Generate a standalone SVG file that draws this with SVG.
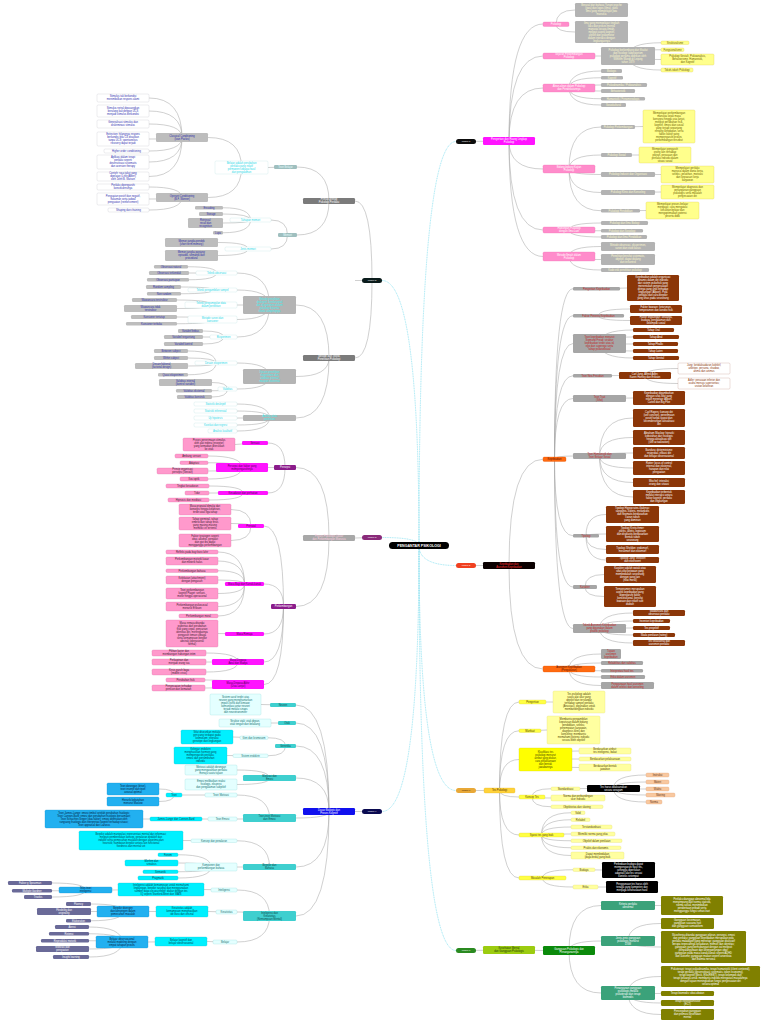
<svg xmlns="http://www.w3.org/2000/svg" width="768" height="1024" viewBox="0 0 768 1024">
<style>
text{font-family:"Liberation Sans",Arial,sans-serif;font-size:2.6px;text-anchor:middle}
rect{rx:1.2px;ry:1.2px}
.c{fill:none;stroke:#a8a8a8;stroke-width:.55}
.d{fill:none;stroke:#86dff0;stroke-width:.8;stroke-dasharray:1 .7}
.root rect{fill:#000;rx:3.5px;ry:3.5px}.root text{fill:#fff;font-size:3.6px;font-weight:bold}
.mo rect{rx:2.5px;ry:2.5px}.mo text{fill:#fff;font-size:2.4px}
.mA rect{fill:#ff14ff}.mA text{fill:#fff}
.p1 rect{fill:#ff8ccb;stroke:#ee6fb4;stroke-width:.3}.p1 text{fill:#fff}
.g1 rect{fill:#b3b3b3}.g1 text{fill:#fbf8d0}
.y1 rect{fill:#ffff8c;stroke:#d9c846;stroke-width:.3}.y1 text{fill:#6b5a00}
.bk5 rect{fill:#0a0000}.bk5 text{fill:#ff3030}
.or rect{fill:#ff6a10;stroke:#e05000;stroke-width:.3}.or text{fill:#5a1000}
.gr rect{fill:#a6a6a6}.gr text{fill:#c02020}
.br rect{fill:#8b3608}.br text{fill:#fff}
.wbr rect{fill:#fff;stroke:#c09080;stroke-width:.3}.wbr text{fill:#8b3608}
.gd rect{fill:#ffd23a;stroke:#e0b020;stroke-width:.3}.gd text{fill:#503000}
.yl rect{fill:#ffff44;stroke:#d8d030;stroke-width:.3}.yl text{fill:#504000}
.yb rect{fill:#ffff00;stroke:#d0d000;stroke-width:.3}.yb text{fill:#404000}
.yp rect{fill:#ffffa0;stroke:#e0d870;stroke-width:.3}.yp text{fill:#504000}
.bkw rect{fill:#000}.bkw text{fill:#fff}
.pc rect{fill:#f8c8a0;stroke:#e0a070;stroke-width:.3}.pc text{fill:#603010}
.lg rect{fill:#9ccc10}.lg text{fill:#1d3a00}
.dgr rect{fill:#0b8a0b}.dgr text{fill:#fff}
.tgr rect{fill:#3ba27a}.tgr text{fill:#fff}
.ol rect{fill:#808000}.ol text{fill:#fff}
.dg rect{fill:#7b7b7b}.dg text{fill:#fff}
.tg rect{fill:#9fbfbf}.tg text{fill:#e8ffff}
.wc rect{fill:#fff;stroke:#b8e0e0;stroke-width:.3}.wc text{fill:#28d8e8}
.gb rect{fill:#bdbdbd}.gb text{fill:#2a2aa8}
.wb rect{fill:#fff;stroke:#c0c0c8;stroke-width:.3}.wb text{fill:#3030b0}
.gc rect{fill:#b4b4b4}.gc text{fill:#40f0f0}
.gm rect{fill:#a8a8a8}.gm text{fill:#ffd0e0}
.pu rect{fill:#8b1c8b}.pu text{fill:#fff}
.mg rect{fill:#ff14ff}.mg text{fill:#500050}
.pk rect{fill:#ff99cc;stroke:#d870a8;stroke-width:.3}.pk text{fill:#402030}
.bl rect{fill:#1010ee}.bl text{fill:#fff}
.tl rect{fill:#3fcfcf}.tl text{fill:#064848}
.lc rect{fill:#e4ffff;stroke:#90d8d8;stroke-width:.3}.lc text{fill:#107070}
.cy rect{fill:#00f0ff;stroke:#20c0d0;stroke-width:.3}.cy text{fill:#004050}
.sb rect{fill:#22b0f0;stroke:#1090d0;stroke-width:.3}.sb text{fill:#002040}
.sl rect{fill:#6a6a98}.sl text{fill:#fff}
</style>

<g id="connectors">
<path class="d" d="M419 545.5Q419 141.5 456 141.5M419 545.5Q419 565.5 456 565.5M419 545.5Q419 790.5 456 790.5M419 545.5Q419 950.5 456 950.5M419 545.5Q419 280.5 382 280.5M419 545.5Q419 537.5 382 537.5M419 545.5Q419 811.5 382 811.5"/>
<path class="c" d="M466 141.5L509 141M466 565.5L509 565.5M466 790.5L499.5 790.5M466 950.5L509 950M372 280.5L355 280.5M372 537.5L355 538M372 811.5L355 811.5"/>
<path class="c" d="M509 141Q509 24 543 24M509 141Q509 56 543 56M509 141Q509 88 543 88M509 141Q509 169 543 169M509 141Q509 230 543 230M509 141Q509 256.5 543 256.5"/>
<path class="c" d="M556 24.25Q556 10 575 10M556 24.25Q556 32 575 32M569 56L601 56M628 56Q628 42.75 661 42.75M628 56Q628 49.75 661 49.75M628 56Q628 59.5 661 59.5M628 56Q628 70 661 70"/>
<path class="c" d="M569 88Q569 71 601 71M569 88Q569 77.75 601 77.75M569 88Q569 85 601 85M569 88Q569 91 601 91M569 88Q569 98.75 601 98.75M569 88Q569 105 601 105"/>
<path class="c" d="M569 169Q569 127 601 127M569 169Q569 155 601 155M569 169Q569 174.5 601 174.5M569 169Q569 192.5 601 192.5M569 169Q569 210.75 601 210.75M618 127L643 126.5M616.5 155L639 155M628 174.5L661 174.5M628 192.5L661 192M620.5 210.75L646 210.5"/>
<path class="c" d="M569 230Q569 223 601 223M569 230Q569 230.75 601 230.75M569 230Q569 237 601 237M569 256.5Q569 246.5 601 246.5M569 256.5Q569 259.5 601 259.5M569 256.5Q569 270 601 270"/>
<path class="c" d="M509 565.5Q509 459.25 543 459.25M509 565.5Q509 669 543 669"/>
<path class="c" d="M554.5 459.25Q554.5 288.75 573 288.75M554.5 459.25Q554.5 315.75 573 315.75M554.5 459.25Q554.5 343.5 573 343.5M554.5 459.25Q554.5 375.75 573 375.75M554.5 459.25Q554.5 398.5 573 398.5M554.5 459.25Q554.5 456 573 456M554.5 459.25Q554.5 535.75 573 535.75M554.5 459.25Q554.5 587 573 587M554.5 459.25Q554.5 628.5 573 628.5"/>
<path class="c" d="M596.5 288.75L627 288M598.5 315.75Q598.5 309 630 309M598.5 315.75Q598.5 320.5 630 320.5M599.5 343.5Q599.5 330 633 330M599.5 343.5Q599.5 337 633 337M599.5 343.5Q599.5 344 633 344M599.5 343.5Q599.5 351 633 351M599.5 343.5Q599.5 358 633 358M592.5 375.75L619 375.5M645 375.5Q645 368.5 678 368.5M645 375.5Q645 383.5 678 383.5M599.5 398.5L633 398"/>
<path class="c" d="M599.5 456Q599.5 418 633 418M599.5 456Q599.5 437.5 633 437.5M599.5 456Q599.5 453 633 453M599.5 456Q599.5 468 633 468M599.5 456Q599.5 482.5 633 482.5M599.5 456Q599.5 497 633 497"/>
<path class="c" d="M586 535.75Q586 514.5 606 514.5M586 535.75Q586 534 606 534M586 535.75Q586 549.5 606 549.5M586 535.75Q586 560 606 560M585 587Q585 574.5 604 574.5M585 587Q585 596.5 604 596.5"/>
<path class="c" d="M599.5 628.5Q599.5 613 633 613M599.5 628.5Q599.5 621 633 621M599.5 628.5Q599.5 628 633 628M599.5 628.5Q599.5 635 633 635M599.5 628.5Q599.5 643 633 643"/>
<path class="c" d="M569 669Q569 654 601 654M569 669Q569 663 601 663M569 669Q569 670.75 601 670.75M569 669Q569 677 601 677M569 669Q569 685.5 601 685.5"/>
<path class="c" d="M499.5 790.5Q499.5 702 519 702M499.5 790.5Q499.5 730.75 519 730.75M499.5 790.5Q499.5 759.5 519 759.5M499.5 790.5Q499.5 797 519 797M499.5 790.5Q499.5 835 519 835M499.5 790.5Q499.5 878 519 878"/>
<path class="c" d="M532.5 702L553 702M530 730.75L547 730M545.5 759.5Q545.5 751 579 751M545.5 759.5Q545.5 759 579 759M545.5 759.5Q545.5 767.5 579 767.5M532 797Q532 788.75 551 788.75M532 797Q532 798 551 798M532 797Q532 806.75 551 806.75M565.5 788.75L587 788.5"/>
<path class="c" d="M613.5 788.5Q613.5 775 646 775M613.5 788.5Q613.5 782 646 782M613.5 788.5Q613.5 789 646 789M613.5 788.5Q613.5 795 646 795M613.5 788.5Q613.5 802 646 802"/>
<path class="c" d="M541.5 835Q541.5 812.75 571 812.75M541.5 835Q541.5 819.75 571 819.75M541.5 835Q541.5 827 571 827M541.5 835Q541.5 834 571 834M541.5 835Q541.5 840.75 571 840.75M541.5 835Q541.5 847.75 571 847.75M541.5 835Q541.5 855.5 571 855.5M542.5 878Q542.5 869.75 573 869.75M542.5 878Q542.5 887 573 887M584 869.75L602 870M585.5 887L606 887"/>
<path class="c" d="M509 950L543 950.5M569 950.5Q569 905.5 601 905.5M569 950.5Q569 941 601 941M569 950.5Q569 993 601 993M628 905.5L661 905.5M628 941Q628 923.5 661 923.5M628 941Q628 947 661 947M628 993Q628 976.5 661 976.5M628 993Q628 993.5 661 993.5M628 993Q628 1003 661 1003M628 993Q628 1014.5 661 1014.5"/>
<path class="c" d="M372 280.5Q372 201 355 201M372 280.5Q372 358 355 358M329 201Q329 167 297 167M329 201Q329 235 297 235M285.5 167L268 167.5M241.5 167.5Q241.5 137.5 208 137.5M241.5 167.5Q241.5 197.5 208 197.5"/>
<path class="c" d="M182 137.5Q182 98 149 98M182 137.5Q182 111 149 111M182 137.5Q182 124 149 124M182 137.5Q182 139 149 139M182 137.5Q182 151 149 151M182 137.5Q182 162 149 162M182 137.5Q182 176.5 149 176.5M182 197.5Q182 187 149 187M182 197.5Q182 199 149 199M182 197.5Q182 210 149 210"/>
<path class="c" d="M287.5 235Q287.5 220 271 220M287.5 235Q287.5 249 271 249M250.5 220Q250.5 207.75 223 207.75M250.5 220Q250.5 214 223 214M250.5 220Q250.5 223 223 223M250.5 220Q250.5 232.75 223 232.75M248 249Q248 242.5 218 242.5M248 249Q248 255.5 218 255.5"/>
<path class="c" d="M329 358Q329 305 296 305M329 358Q329 376.5 296 376.5M329 358Q329 418 296 418M269.5 305Q269.5 273 237 273M269.5 305Q269.5 290 237 290M269.5 305L237 305M269.5 305Q269.5 319.5 237 319.5M269.5 305Q269.5 337 237 337"/>
<path class="c" d="M216.5 273Q216.5 266.75 188 266.75M216.5 273L189 273M216.5 273Q216.5 279.75 189 279.75M212.5 290Q212.5 287 181 287M212.5 290Q212.5 293.75 181 293.75M211 305Q211 300 177 300M211 305Q211 308.5 177 308.5M212.5 319.5Q212.5 317 177 317M212.5 319.5Q212.5 323.75 177 323.75M223.5 337Q223.5 331 203 331M223.5 337L203 337M223.5 337Q223.5 344 203 344"/>
<path class="c" d="M269.5 376.5Q269.5 363 237 363M269.5 376.5Q269.5 389 237 389M216 363Q216 351 188 351M216 363Q216 358 188 358M216 363Q216 366 188 366M216 363Q216 374.75 188 374.75M227.5 389Q227.5 382.5 212 382.5M227.5 389Q227.5 390.75 212 390.75M227.5 389Q227.5 397 212 397"/>
<path class="c" d="M269.5 418Q269.5 404 237 404M269.5 418Q269.5 411 237 411M269.5 418L237 418M269.5 418Q269.5 425 237 425M269.5 418Q269.5 431 237 431"/>
<path class="c" d="M329 538Q329 467.5 296 467.5M329 538Q329 606.5 296 606.5M285 467.5Q285 443 268 443M285 467.5L268 467.5M285 467.5Q285 493 268 493M255 443L235 444.5"/>
<path class="c" d="M242 467.5Q242 456 208 456M242 467.5Q242 462.75 208 462.75M242 467.5Q242 471 208 471M242 467.5Q242 479 208 479M243 493Q243 486 209 486M243 493L209 493M243 493Q243 500 209 500"/>
<path class="c" d="M283.5 606.5Q283.5 526 264 526M283.5 606.5Q283.5 584 264 584M283.5 606.5Q283.5 634 264 634M283.5 606.5Q283.5 662 264 662M283.5 606.5Q283.5 684.5 264 684.5"/>
<path class="c" d="M251 526Q251 509.5 231 509.5M251 526Q251 523.5 231 523.5M251 526Q251 540.5 231 540.5M244.5 584Q244.5 552 218 552M244.5 584Q244.5 561 218 561M244.5 584Q244.5 570.75 218 570.75M244.5 584Q244.5 580 218 580M244.5 584Q244.5 593.5 218 593.5M244.5 584Q244.5 606.5 218 606.5M244.5 584Q244.5 616 218 616M244.5 634L218 633.5"/>
<path class="c" d="M238 662Q238 653 206 653M238 662L206 662M238 662Q238 672 206 672M238 684.5Q238 680 205 680M238 684.5Q238 688 205 688"/>
<path class="c" d="M329 811.5Q329 705 296 705M329 811.5Q329 723 296 723M329 811.5Q329 746 296 746M329 811.5Q329 778 296 778M329 811.5Q329 818 296 818M329 811.5Q329 867 296 867M329 811.5Q329 916 296 916"/>
<path class="c" d="M283 705L261 704.5M287 723L271 723M285.5 746Q285.5 737.75 268 737.75M285.5 746Q285.5 755.75 268 755.75M254 737.75L233 737M250.5 755.75L227 755.5M269.5 778Q269.5 770 237 770M269.5 778Q269.5 784.5 237 784.5"/>
<path class="c" d="M269.5 818Q269.5 795 237 795M269.5 818Q269.5 819 237 819M221 795L182 795M174 795Q174 789 159 789M174 795Q174 801.5 159 801.5M222.5 819L202 819M176 819L143 819"/>
<path class="c" d="M269.5 867Q269.5 840.75 237 840.75M269.5 867L237 867M214 840.75L183 840.5M211 867Q211 854.75 178 854.75M211 867Q211 863 178 863M211 867Q211 871.75 178 871.75M211 867Q211 878 178 878"/>
<path class="c" d="M269.5 916Q269.5 890 237 890M269.5 916Q269.5 912 237 912M269.5 916Q269.5 942 237 942M224 890L204 889.5M161 889.5L112 890M85.5 890Q85.5 883 52 883M85.5 890Q85.5 890.75 52 890.75M85.5 890Q85.5 897 52 897"/>
<path class="c" d="M226.5 912L208 911.5M182 911.5L149 911.5M123 911.5Q123 904 91 904M123 911.5L91 911.5M123 911.5Q123 920.75 91 920.75M225 942L207 941.5M181 941.5L148 942M122 942Q122 927 89 927M122 942Q122 933.75 89 933.75M122 942Q122 940.75 89 940.75M122 942Q122 949 89 949M122 942Q122 957 89 957"/>
</g>

<g id="root" class="root"><rect x="389" y="542" width="60" height="7"/><text x="419" y="546.8">PENGANTAR PSIKOLOGI</text></g>
<g id="modul1" class="mo"><rect x="456" y="139" width="20" height="5" fill="#0d0d0d"/><text x="466" y="142.3">Modul 1</text></g>
<g id="modul2" class="mo"><rect x="362" y="278" width="20" height="5" fill="#0b1c1c"/><text x="372" y="281.3">Modul 2</text></g>
<g id="modul3" class="mo"><rect x="362" y="535" width="20" height="5" fill="#8a2a7a"/><text x="372" y="538.3">Modul 3</text></g>
<g id="modul4" class="mo"><rect x="362" y="809" width="20" height="5" fill="#0a0a50"/><text x="372" y="812.3">Modul 4</text></g>
<g id="modul5" class="mo"><rect x="456" y="563" width="20" height="5" fill="#f04020"/><text x="466" y="566.3">Modul 5</text></g>
<g id="modul6" class="mo"><rect x="456" y="788" width="20" height="5" fill="#e8a838"/><text x="466" y="791.3" style="fill:#402000">Modul 6</text></g>
<g id="modul7" class="mo"><rect x="456" y="948" width="20" height="5" fill="#2a8a20"/><text x="466" y="951.3">Modul 7</text></g>

<!-- Modul 1 -->
<g id="a0" class="mA"><rect x="483" y="137" width="52" height="8"/><text x="509" y="140.4">Pengertian dan Ruang Lingkup<tspan x="509" dy="3">Psikologi</tspan></text></g>
<g id="p1" class="p1"><rect x="543" y="22" width="26" height="4.5"/><text x="556" y="25.15">Psikologi</text></g>
<g id="g11" class="g1"><rect x="575" y="3" width="53" height="14"/><text x="601.5" y="6.4">Berasal dari bahasa Yunani psyche<tspan x="601.5" dy="3">(jiwa) dan logos (ilmu), yaitu</tspan><tspan x="601.5" dy="3">ilmu yang mempelajari jiwa</tspan><tspan x="601.5" dy="3">manusia</tspan></text></g>
<g id="g12" class="g1"><rect x="575" y="21" width="53" height="22"/><text x="601.5" y="23.9">Ilmu yang mempelajari tingkah<tspan x="601.5" dy="3">laku dan proses mental</tspan><tspan x="601.5" dy="3">manusia secara ilmiah,</tspan><tspan x="601.5" dy="3">meliputi aspek kognitif,</tspan><tspan x="601.5" dy="3">afektif dan psikomotor</tspan><tspan x="601.5" dy="3">dalam interaksi dengan</tspan><tspan x="601.5" dy="3">lingkungannya</tspan></text></g>
<g id="p2" class="p1"><rect x="543" y="53" width="52" height="6"/><text x="569" y="55.4">Sejarah Perkembangan<tspan x="569" dy="3">Psikologi</tspan></text></g>
<g id="g21" class="g1"><rect x="601" y="47" width="54" height="18"/><text x="628" y="50.9">Psikologi berkembang dari filsafat<tspan x="628" dy="3">dan fisiologi; laboratorium</tspan><tspan x="628" dy="3">psikologi pertama didirikan oleh</tspan><tspan x="628" dy="3">Wilhelm Wundt di Leipzig</tspan><tspan x="628" dy="3">tahun 1879</tspan></text></g>
<g id="y1" class="y1"><rect x="661" y="41" width="28" height="3.5"/><text x="675" y="43.65">Strukturalisme</text></g>
<g id="y2" class="y1"><rect x="661" y="48" width="23" height="3.5"/><text x="672.5" y="50.65">Fungsionalisme</text></g>
<g id="y3" class="y1"><rect x="661" y="54" width="53" height="11"/><text x="687.5" y="57.4">Psikologi Gestalt, Psikoanalisis,<tspan x="687.5" dy="3">Behaviorisme, Humanistik,</tspan><tspan x="687.5" dy="3">dan Kognitif</tspan></text></g>
<g id="y4" class="y1"><rect x="661" y="68" width="32" height="4"/><text x="677" y="70.9">Tokoh-tokoh Psikologi</text></g>
<g id="p3" class="p1"><rect x="543" y="84" width="52" height="8"/><text x="569" y="87.4">Aliran-aliran dalam Psikologi<tspan x="569" dy="3">dan Pendekatannya</tspan></text></g>
<g id="p3a" class="g1"><rect x="601" y="69" width="21" height="4"/><text x="611.5" y="71.9">Biologis</text></g>
<g id="p3b" class="g1"><rect x="601" y="76" width="22" height="3.5"/><text x="612" y="78.65">Kognitif</text></g>
<g id="p3c" class="g1"><rect x="601" y="83" width="46" height="4"/><text x="624" y="85.9">Psikodinamika / Psikoanalisis</text></g>
<g id="p3d" class="g1"><rect x="601" y="89" width="34" height="4"/><text x="618" y="91.9">Behavioristik</text></g>
<g id="p3e" class="g1"><rect x="601" y="97" width="44" height="3.5"/><text x="623" y="99.65">Humanistik / Fenomenologis</text></g>
<g id="p3f" class="g1"><rect x="601" y="103" width="25" height="4"/><text x="613.5" y="105.9">Sosiokultural</text></g>
<g id="p4" class="p1"><rect x="543" y="165" width="52" height="8"/><text x="569" y="168.4">Bidang-bidang Kajian<tspan x="569" dy="3">Psikologi</tspan></text></g>
<g id="g41" class="g1"><rect x="601" y="125" width="34" height="4"/><text x="618" y="127.9">Psikologi Perkembangan</text></g>
<g id="y41" class="y1"><rect x="643" y="110" width="52" height="33"/><text x="669" y="113.9">Mempelajari perkembangan<tspan x="669" dy="3">manusia sejak masa</tspan><tspan x="669" dy="3">konsepsi hingga usia lanjut,</tspan><tspan x="669" dy="3">meliputi perubahan fisik,</tspan><tspan x="669" dy="3">kognitif, emosi dan sosial</tspan><tspan x="669" dy="3">yang terjadi sepanjang</tspan><tspan x="669" dy="3">rentang kehidupan, serta</tspan><tspan x="669" dy="3">faktor-faktor yang</tspan><tspan x="669" dy="3">mempengaruhi proses</tspan><tspan x="669" dy="3">perkembangan tersebut</tspan></text></g>
<g id="g42" class="g1"><rect x="601" y="153" width="31" height="4"/><text x="616.5" y="155.9">Psikologi Sosial</text></g>
<g id="y42" class="y1"><rect x="639" y="147" width="52" height="16"/><text x="665" y="149.9">Mempelajari pengaruh<tspan x="665" dy="3">orang lain terhadap</tspan><tspan x="665" dy="3">pikiran, perasaan dan</tspan><tspan x="665" dy="3">perilaku individu dalam</tspan><tspan x="665" dy="3">situasi sosial</tspan></text></g>
<g id="g43" class="g1"><rect x="601" y="172" width="54" height="5"/><text x="628" y="175.4">Psikologi Industri dan Organisasi</text></g>
<g id="y43" class="y1"><rect x="661" y="166" width="53" height="17"/><text x="687.5" y="169.4">Mempelajari perilaku<tspan x="687.5" dy="3">manusia dalam dunia kerja,</tspan><tspan x="687.5" dy="3">seleksi, pelatihan, motivasi</tspan><tspan x="687.5" dy="3">dan kepuasan kerja</tspan><tspan x="687.5" dy="3">karyawan</tspan></text></g>
<g id="g44" class="g1"><rect x="601" y="190" width="54" height="5"/><text x="628" y="193.4">Psikologi Klinis dan Konseling</text></g>
<g id="y44" class="y1"><rect x="661" y="185" width="53" height="14"/><text x="687.5" y="188.4">Mempelajari diagnosis dan<tspan x="687.5" dy="3">penanganan gangguan</tspan><tspan x="687.5" dy="3">psikologis serta masalah</tspan><tspan x="687.5" dy="3">penyesuaian diri</tspan></text></g>
<g id="g45" class="g1"><rect x="601" y="209" width="39" height="3.5"/><text x="620.5" y="211.65">Psikologi Pendidikan</text></g>
<g id="y45" class="y1"><rect x="646" y="202" width="53" height="17"/><text x="672.5" y="205.4">Mempelajari proses belajar<tspan x="672.5" dy="3">mengajar, cara mengatasi</tspan><tspan x="672.5" dy="3">kesulitan belajar dan</tspan><tspan x="672.5" dy="3">mengoptimalkan potensi</tspan><tspan x="672.5" dy="3">peserta didik</tspan></text></g>
<g id="p5" class="p1"><rect x="543" y="227" width="52" height="6"/><text x="569" y="229.4">Hubungan Psikologi<tspan x="569" dy="3">dengan Ilmu Lain</tspan></text></g>
<g id="p5a" class="g1"><rect x="601" y="221" width="47" height="4"/><text x="624.5" y="223.9">Psikologi dan Ilmu Biologi</text></g>
<g id="p5b" class="g1"><rect x="601" y="229" width="42" height="3.5"/><text x="622" y="231.65">Psikologi dan Sosiologi</text></g>
<g id="p5c" class="g1"><rect x="601" y="235" width="46" height="4"/><text x="624" y="237.9">Psikologi dan Ilmu Pendidikan</text></g>
<g id="p6" class="p1"><rect x="543" y="252" width="52" height="9"/><text x="569" y="255.9">Metode Ilmiah dalam<tspan x="569" dy="3">Psikologi</tspan></text></g>
<g id="p6a" class="g1"><rect x="601" y="242" width="54" height="9"/><text x="628" y="245.9">Metode observasi, eksperimen,<tspan x="628" dy="3">survei dan studi kasus</tspan></text></g>
<g id="p6b" class="g1"><rect x="601" y="254" width="54" height="11"/><text x="628" y="257.4">Penelitian bersifat sistematis,<tspan x="628" dy="3">objektif, dapat diulang</tspan><tspan x="628" dy="3">dan terkontrol</tspan></text></g>
<g id="p6c" class="g1"><rect x="601" y="268" width="48" height="4"/><text x="625" y="270.9">Kode etik penelitian psikologi</text></g>

<!-- Modul 5 -->
<g id="b0" class="bk5"><rect x="483" y="562" width="52" height="7"/><text x="509" y="564.9">Kepribadian dan<tspan x="509" dy="3">Asesmen Kepribadian</tspan></text></g>
<g id="k" class="or"><rect x="543" y="457" width="23" height="4.5"/><text x="554.5" y="460.15">Kepribadian</text></g>
<g id="as" class="or"><rect x="543" y="666" width="52" height="6"/><text x="569" y="668.4">Asesmen Kepribadian<tspan x="569" dy="3">(Pengukuran)</tspan></text></g>
<g id="k1" class="gr"><rect x="573" y="287" width="47" height="3.5"/><text x="596.5" y="289.65">Pengertian Kepribadian</text></g>
<g id="k1a" class="br"><rect x="627" y="275" width="52" height="26"/><text x="653" y="278.4">Kepribadian adalah organisasi<tspan x="653" dy="3">dinamis dalam diri individu</tspan><tspan x="653" dy="3">dari sistem psikofisik yang</tspan><tspan x="653" dy="3">menentukan penyesuaian</tspan><tspan x="653" dy="3">dirinya yang unik terhadap</tspan><tspan x="653" dy="3">lingkungan (Allport). Pola</tspan><tspan x="653" dy="3">perilaku dan cara berpikir</tspan><tspan x="653" dy="3">yang khas pada seseorang</tspan></text></g>
<g id="k2" class="gr"><rect x="573" y="314" width="51" height="3.5"/><text x="598.5" y="316.65">Faktor Penentu Kepribadian</text></g>
<g id="k2a" class="br"><rect x="630" y="305" width="52" height="8"/><text x="656" y="308.4">Faktor bawaan: keturunan,<tspan x="656" dy="3">temperamen dan kondisi fisik</tspan></text></g>
<g id="k2b" class="br"><rect x="630" y="316" width="52" height="9"/><text x="656" y="318.4">Faktor lingkungan: keluarga,<tspan x="656" dy="3">budaya, pengalaman dan</tspan><tspan x="656" dy="3">kelompok sosial</tspan></text></g>
<g id="k3" class="gr"><rect x="573" y="334" width="53" height="19"/><text x="599.5" y="338.4">Teori kepribadian menurut<tspan x="599.5" dy="3">Sigmund Freud: struktur</tspan><tspan x="599.5" dy="3">kepribadian terdiri atas id,</tspan><tspan x="599.5" dy="3">ego dan superego serta</tspan><tspan x="599.5" dy="3">tahap psikoseksual</tspan></text></g>
<g id="k3a" class="br"><rect x="633" y="328" width="41" height="4"/><text x="653.5" y="330.9">Tahap Oral</text></g>
<g id="k3b" class="br"><rect x="633" y="335" width="46" height="4"/><text x="656" y="337.9">Tahap Anal</text></g>
<g id="k3c" class="br"><rect x="633" y="342" width="45" height="4"/><text x="655.5" y="344.9">Tahap Phallic</text></g>
<g id="k3d" class="br"><rect x="633" y="349" width="45" height="4"/><text x="655.5" y="351.9">Tahap Laten</text></g>
<g id="k3e" class="br"><rect x="633" y="356" width="46" height="4"/><text x="656" y="358.9">Tahap Genital</text></g>
<g id="k4" class="gr"><rect x="573" y="374" width="39" height="3.5"/><text x="592.5" y="376.65">Teori Neo-Freudian</text></g>
<g id="k4a" class="br"><rect x="619" y="372" width="52" height="7"/><text x="645" y="374.9">Carl Jung, Alfred Adler,<tspan x="645" dy="3">Karen Horney dan Erikson</tspan></text></g>
<g id="k4b" class="wbr"><rect x="678" y="363" width="52" height="11"/><text x="704" y="366.4">Jung: ketidaksadaran kolektif,<tspan x="704" dy="3">arketipe, persona, shadow,</tspan><tspan x="704" dy="3">anima dan animus</tspan></text></g>
<g id="k4c" class="wbr"><rect x="678" y="378" width="52" height="11"/><text x="704" y="381.4">Adler: perasaan inferior dan<tspan x="704" dy="3">usaha menuju superioritas;</tspan><tspan x="704" dy="3">urutan kelahiran</tspan></text></g>
<g id="k5" class="gr"><rect x="573" y="395" width="53" height="7"/><text x="599.5" y="397.9">Teori Trait<tspan x="599.5" dy="3">(Sifat)</tspan></text></g>
<g id="k5a" class="br"><rect x="633" y="391" width="52" height="14"/><text x="659" y="394.4">Kepribadian digambarkan<tspan x="659" dy="3">dengan sifat-sifat yang</tspan><tspan x="659" dy="3">relatif menetap: Allport,</tspan><tspan x="659" dy="3">Cattell dan Big Five</tspan></text></g>
<g id="k6" class="gr"><rect x="573" y="453" width="53" height="6"/><text x="599.5" y="455.4">Teori Humanistik dan<tspan x="599.5" dy="3">Teori Belajar Sosial</tspan></text></g>
<g id="k6a" class="br"><rect x="633" y="409" width="52" height="18"/><text x="659" y="412.9">Carl Rogers: konsep diri<tspan x="659" dy="3">(self concept), penerimaan</tspan><tspan x="659" dy="3">positif tanpa syarat dan</tspan><tspan x="659" dy="3">kecenderungan aktualisasi</tspan><tspan x="659" dy="3">diri</tspan></text></g>
<g id="k6b" class="br"><rect x="633" y="430" width="52" height="15"/><text x="659" y="433.9">Abraham Maslow: hierarki<tspan x="659" dy="3">kebutuhan dari fisiologis</tspan><tspan x="659" dy="3">hingga aktualisasi diri</tspan><tspan x="659" dy="3">(self actualization)</tspan></text></g>
<g id="k6c" class="br"><rect x="633" y="447" width="52" height="12"/><text x="659" y="450.9">Bandura: determinisme<tspan x="659" dy="3">resiprokal, efikasi diri</tspan><tspan x="659" dy="3">dan belajar observasional</tspan></text></g>
<g id="k6d" class="br"><rect x="633" y="461" width="52" height="14"/><text x="659" y="464.4">Rotter: locus of control<tspan x="659" dy="3">internal dan eksternal,</tspan><tspan x="659" dy="3">harapan dan nilai</tspan><tspan x="659" dy="3">penguatan</tspan></text></g>
<g id="k6e" class="br"><rect x="633" y="478" width="52" height="9"/><text x="659" y="481.9">Mischel: interaksi<tspan x="659" dy="3">orang dan situasi</tspan></text></g>
<g id="k6f" class="br"><rect x="633" y="490" width="52" height="14"/><text x="659" y="493.4">Kepribadian terbentuk<tspan x="659" dy="3">melalui interaksi antara</tspan><tspan x="659" dy="3">faktor kognitif, perilaku</tspan><tspan x="659" dy="3">dan lingkungan</tspan></text></g>
<g id="k7" class="gr"><rect x="573" y="534" width="26" height="3.5"/><text x="586" y="536.65">Tipologi</text></g>
<g id="k7a" class="br"><rect x="606" y="506" width="53" height="17"/><text x="632.5" y="509.4">Tipologi Hippocrates-Galenus:<tspan x="632.5" dy="3">sanguinis, koleris, melankolis</tspan><tspan x="632.5" dy="3">dan flegmatis berdasarkan</tspan><tspan x="632.5" dy="3">cairan tubuh</tspan><tspan x="632.5" dy="3">yang dominan</tspan></text></g>
<g id="k7b" class="br"><rect x="606" y="526" width="53" height="16"/><text x="632.5" y="528.9">Tipologi Kretschmer:<tspan x="632.5" dy="3">piknis, atletis, leptosom</tspan><tspan x="632.5" dy="3">dan displastis berdasarkan</tspan><tspan x="632.5" dy="3">bentuk tubuh</tspan><tspan x="632.5" dy="3">seseorang</tspan></text></g>
<g id="k7c" class="br"><rect x="606" y="545" width="53" height="9"/><text x="632.5" y="548.9">Tipologi Sheldon: endomorf,<tspan x="632.5" dy="3">mesomorf dan ektomorf</tspan></text></g>
<g id="k7d" class="br"><rect x="606" y="557" width="53" height="6"/><text x="632.5" y="559.4">Tipologi Jung: introvert<tspan x="632.5" dy="3">dan ekstrovert</tspan></text></g>
<g id="k8" class="gr"><rect x="573" y="585" width="24" height="4"/><text x="585" y="587.9">Karakter</text></g>
<g id="k8a" class="br"><rect x="604" y="566" width="52" height="17"/><text x="630" y="569.4">Karakter adalah watak atau<tspan x="630" dy="3">sifat-sifat kejiwaan yang</tspan><tspan x="630" dy="3">membedakan seseorang</tspan><tspan x="630" dy="3">dengan yang lain</tspan><tspan x="630" dy="3">(nilai moral)</tspan></text></g>
<g id="k8b" class="br"><rect x="604" y="586" width="52" height="21"/><text x="630" y="589.9">Temperamen merupakan<tspan x="630" dy="3">aspek kepribadian yang</tspan><tspan x="630" dy="3">dipengaruhi faktor</tspan><tspan x="630" dy="3">konstitusional, bersifat</tspan><tspan x="630" dy="3">bawaan dan relatif sulit</tspan><tspan x="630" dy="3">diubah</tspan></text></g>
<g id="k9" class="gr"><rect x="573" y="624" width="53" height="9"/><text x="599.5" y="626.4">Teknik Asesmen Kepribadian<tspan x="599.5" dy="3">yang digunakan dalam</tspan><tspan x="599.5" dy="3">praktik psikologi</tspan></text></g>
<g id="k9a" class="br"><rect x="633" y="610" width="52" height="6"/><text x="659" y="612.4">Wawancara dan<tspan x="659" dy="3">observasi perilaku</tspan></text></g>
<g id="k9b" class="br"><rect x="633" y="619" width="37" height="4"/><text x="651.5" y="621.9">Inventori kepribadian</text></g>
<g id="k9c" class="br"><rect x="633" y="626" width="37" height="4"/><text x="651.5" y="628.9">Tes proyektif</text></g>
<g id="k9d" class="br"><rect x="633" y="633" width="42" height="4"/><text x="654" y="635.9">Skala penilaian (rating)</text></g>
<g id="k9e" class="br"><rect x="633" y="640" width="52" height="6"/><text x="659" y="642.4">Tes situasional dan<tspan x="659" dy="3">asesmen perilaku</tspan></text></g>
<g id="as1" class="gr"><rect x="601" y="649" width="20" height="10"/><text x="611" y="651.9">Tujuan<tspan x="611" dy="3">asesmen</tspan><tspan x="611" dy="3">kepribadian</tspan></text></g>
<g id="as2" class="gr"><rect x="601" y="661" width="42" height="4"/><text x="622" y="663.9">Reliabilitas dan validitas</text></g>
<g id="as3" class="gr"><rect x="601" y="669" width="42" height="3.5"/><text x="622" y="671.65">Interpretasi hasil tes</text></g>
<g id="as4" class="gr"><rect x="601" y="675" width="44" height="4"/><text x="623" y="677.9">Etika dalam asesmen</text></g>
<g id="as5" class="gr"><rect x="601" y="682" width="53" height="7"/><text x="627.5" y="684.9">Penggunaan hasil asesmen<tspan x="627.5" dy="3">dalam seleksi dan konseling</tspan></text></g>

<!-- Modul 6 -->
<g id="t0" class="gd"><rect x="484" y="788" width="31" height="5"/><text x="499.5" y="791.4">Tes Psikologi</text></g>
<g id="t1" class="yl"><rect x="519" y="700" width="27" height="4"/><text x="532.5" y="702.9">Pengertian</text></g>
<g id="t1a" class="yp"><rect x="553" y="691" width="52" height="22"/><text x="579" y="695.4">Tes psikologi adalah<tspan x="579" dy="3">suatu alat ukur yang</tspan><tspan x="579" dy="3">objektif dan terstandar</tspan><tspan x="579" dy="3">terhadap sampel perilaku</tspan><tspan x="579" dy="3">(Anastasi), digunakan untuk</tspan><tspan x="579" dy="3">membandingkan individu</tspan></text></g>
<g id="t2" class="yl"><rect x="519" y="729" width="22" height="3.5"/><text x="530" y="731.65">Manfaat</text></g>
<g id="t2a" class="yp"><rect x="547" y="716" width="53" height="28"/><text x="573.5" y="720.4">Membantu pengambilan<tspan x="573.5" dy="3">keputusan dalam bidang</tspan><tspan x="573.5" dy="3">pendidikan, seleksi,</tspan><tspan x="573.5" dy="3">penempatan karyawan,</tspan><tspan x="573.5" dy="3">diagnosis klinis dan</tspan><tspan x="573.5" dy="3">konseling; membantu</tspan><tspan x="573.5" dy="3">memahami potensi individu</tspan><tspan x="573.5" dy="3">secara lebih objektif</tspan></text></g>
<g id="t3" class="yb"><rect x="519" y="748" width="53" height="23"/><text x="545.5" y="752.9">Klasifikasi tes<tspan x="545.5" dy="3">psikologi menurut</tspan><tspan x="545.5" dy="3">atribut yang diukur,</tspan><tspan x="545.5" dy="3">cara pelaksanaan</tspan><tspan x="545.5" dy="3">dan bentuk</tspan><tspan x="545.5" dy="3">jawabannya</tspan></text></g>
<g id="t3a" class="yp"><rect x="579" y="748" width="52" height="6"/><text x="605" y="750.4">Berdasarkan atribut:<tspan x="605" dy="3">tes inteligensi, bakat</tspan></text></g>
<g id="t3b" class="yp"><rect x="579" y="757" width="52" height="4"/><text x="605" y="759.9">Berdasarkan pelaksanaan</text></g>
<g id="t3c" class="yp"><rect x="579" y="764" width="52" height="7"/><text x="605" y="766.9">Berdasarkan bentuk<tspan x="605" dy="3">jawaban</tspan></text></g>
<g id="t4" class="yl"><rect x="519" y="795" width="26" height="4"/><text x="532" y="797.9">Konsep Tes</text></g>
<g id="t4a" class="yp"><rect x="551" y="787" width="29" height="3.5"/><text x="565.5" y="789.65">Standardisasi</text></g>
<g id="t4b" class="bkw"><rect x="587" y="785" width="53" height="7"/><text x="613.5" y="787.9">Tes harus dilaksanakan<tspan x="613.5" dy="3">secara seragam</tspan></text></g>
<g id="t4c" class="pc"><rect x="646" y="773" width="23" height="4"/><text x="657.5" y="775.9">Instruksi</text></g>
<g id="t4d" class="pc"><rect x="646" y="780" width="23" height="4"/><text x="657.5" y="782.9">Materi</text></g>
<g id="t4e" class="pc"><rect x="646" y="787" width="23" height="4"/><text x="657.5" y="789.9">Waktu</text></g>
<g id="t4f" class="pc"><rect x="646" y="793" width="29" height="4"/><text x="660.5" y="795.9">Skoring</text></g>
<g id="t4g" class="pc"><rect x="646" y="800" width="16" height="4"/><text x="654" y="802.9">Norma</text></g>
<g id="t4h" class="yp"><rect x="551" y="795" width="54" height="6"/><text x="578" y="797.4">Norma dan perbandingan<tspan x="578" dy="3">skor individu</tspan></text></g>
<g id="t4i" class="yp"><rect x="551" y="805" width="52" height="3.5"/><text x="577" y="807.65">Objektivitas dan skoring</text></g>
<g id="t5" class="yl"><rect x="519" y="833" width="45" height="4"/><text x="541.5" y="835.9">Syarat tes yang baik</text></g>
<g id="t5a" class="yp"><rect x="571" y="811" width="14" height="3.5"/><text x="578" y="813.65">Valid</text></g>
<g id="t5b" class="yp"><rect x="571" y="818" width="19" height="3.5"/><text x="580.5" y="820.65">Reliabel</text></g>
<g id="t5c" class="yp"><rect x="571" y="825" width="41" height="4"/><text x="591.5" y="827.9">Terstandardisasi</text></g>
<g id="t5d" class="yp"><rect x="571" y="832" width="44" height="4"/><text x="593" y="834.9">Memiliki norma yang jelas</text></g>
<g id="t5e" class="yp"><rect x="571" y="839" width="51" height="3.5"/><text x="596.5" y="841.65">Objektif dalam penilaian</text></g>
<g id="t5f" class="yp"><rect x="571" y="846" width="50" height="3.5"/><text x="596" y="848.65">Praktis dan ekonomis</text></g>
<g id="t5g" class="yp"><rect x="571" y="852" width="53" height="7"/><text x="597.5" y="854.9">Dapat membedakan<tspan x="597.5" dy="3">(daya beda) yang baik</tspan></text></g>
<g id="t6" class="yl"><rect x="519" y="876" width="47" height="4"/><text x="542.5" y="878.9">Masalah Penerapan</text></g>
<g id="t6a" class="yp"><rect x="573" y="868" width="22" height="3.5"/><text x="584" y="870.65">Budaya</text></g>
<g id="t6b" class="bkw"><rect x="602" y="862" width="53" height="16"/><text x="628.5" y="864.9">Perbedaan budaya dapat<tspan x="628.5" dy="3">mempengaruhi hasil tes,</tspan><tspan x="628.5" dy="3">sehingga diperlukan</tspan><tspan x="628.5" dy="3">adaptasi alat tes sesuai</tspan><tspan x="628.5" dy="3">konteks setempat</tspan></text></g>
<g id="t6c" class="yp"><rect x="573" y="885" width="25" height="4"/><text x="585.5" y="887.9">Etika</text></g>
<g id="t6d" class="bkw"><rect x="606" y="881" width="52" height="12"/><text x="632" y="884.9">Penggunaan tes harus oleh<tspan x="632" dy="3">tenaga yang kompeten dan</tspan><tspan x="632" dy="3">menjaga kerahasiaan hasil</tspan></text></g>

<!-- Modul 7 -->
<g id="h0" class="lg"><rect x="483" y="946" width="52" height="8"/><text x="509" y="949.4">Kesehatan Mental<tspan x="509" dy="3">dan Gangguan Psikologis</tspan></text></g>
<g id="h1" class="dgr"><rect x="543" y="946" width="52" height="9"/><text x="569" y="949.9">Gangguan Psikologis dan<tspan x="569" dy="3">Penanganannya</tspan></text></g>
<g id="h11" class="tgr"><rect x="601" y="901" width="54" height="9"/><text x="628" y="904.9">Kriteria perilaku<tspan x="628" dy="3">abnormal</tspan></text></g>
<g id="h11a" class="ol"><rect x="661" y="896" width="62" height="19"/><text x="692" y="900.4">Perilaku dianggap abnormal bila<tspan x="692" dy="3">menyimpang dari norma statistik,</tspan><tspan x="692" dy="3">norma sosial, menimbulkan</tspan><tspan x="692" dy="3">penderitaan pribadi serta</tspan><tspan x="692" dy="3">mengganggu fungsi sehari-hari</tspan></text></g>
<g id="h12" class="tgr"><rect x="601" y="936" width="54" height="10"/><text x="628" y="938.9">Jenis-jenis gangguan<tspan x="628" dy="3">psikologis menurut</tspan><tspan x="628" dy="3">DSM</tspan></text></g>
<g id="h12a" class="ol"><rect x="661" y="918" width="53" height="11"/><text x="687.5" y="921.4">Gangguan kecemasan,<tspan x="687.5" dy="3">gangguan suasana hati</tspan><tspan x="687.5" dy="3">dan gangguan somatoform</tspan></text></g>
<g id="h12b" class="ol"><rect x="661" y="931" width="85" height="32"/><text x="703.5" y="935.9">Skizofrenia ditandai gangguan pikiran, persepsi, emosi<tspan x="703.5" dy="3">dan perilaku; gangguan kepribadian merupakan pola</tspan><tspan x="703.5" dy="3">perilaku maladaptif yang menetap; gangguan disosiatif</tspan><tspan x="703.5" dy="3">berupa terpecahnya kesadaran, memori dan identitas;</tspan><tspan x="703.5" dy="3">gangguan yang berhubungan dengan zat meliputi</tspan><tspan x="703.5" dy="3">penyalahgunaan dan ketergantungan obat;</tspan><tspan x="703.5" dy="3">gangguan pada masa kanak-kanak seperti ADHD</tspan><tspan x="703.5" dy="3">dan autisme; gangguan makan seperti anoreksia</tspan><tspan x="703.5" dy="3">dan bulimia nervosa</tspan></text></g>
<g id="h13" class="tgr"><rect x="601" y="986" width="54" height="14"/><text x="628" y="989.4">Penanganan gangguan<tspan x="628" dy="3">psikologis melalui</tspan><tspan x="628" dy="3">psikoterapi dan terapi</tspan><tspan x="628" dy="3">biomedis</tspan></text></g>
<g id="h13a" class="ol"><rect x="661" y="966" width="99" height="21"/><text x="710.5" y="969.9">Psikoterapi: terapi psikodinamika, terapi humanistik (client centered),<tspan x="710.5" dy="3">terapi perilaku (desensitisasi sistematis, token economy),</tspan><tspan x="710.5" dy="3">terapi kognitif (Beck, Ellis/REBT), terapi kelompok dan</tspan><tspan x="710.5" dy="3">terapi keluarga untuk membantu individu mengatasi masalahnya</tspan><tspan x="710.5" dy="3">dengan tujuan meningkatkan fungsi penyesuaian diri</tspan><tspan x="710.5" dy="3">secara optimal</tspan></text></g>
<g id="h13b" class="ol"><rect x="661" y="991" width="53" height="5"/><text x="687.5" y="994.4">Terapi biomedis: obat-obatan</text></g>
<g id="h13c" class="ol"><rect x="661" y="1000" width="53" height="6"/><text x="687.5" y="1002.4">Terapi elektrokonvulsif<tspan x="687.5" dy="3">(ECT)</tspan></text></g>
<g id="h13d" class="ol"><rect x="661" y="1009" width="53" height="11"/><text x="687.5" y="1012.4">Pencegahan gangguan<tspan x="687.5" dy="3">dan promosi kesehatan</tspan><tspan x="687.5" dy="3">mental</tspan></text></g>

<!-- Modul 2 -->
<g id="c0" class="dg"><rect x="303" y="198" width="52" height="6"/><text x="329" y="200.4">Prinsip-prinsip<tspan x="329" dy="3">Psikologi Perilaku</tspan></text></g>
<g id="d0" class="dg"><rect x="303" y="355" width="52" height="6"/><text x="329" y="357.4">Metode dan Teknik<tspan x="329" dy="3">Penelitian Psikologi</tspan></text></g>
<g id="c1" class="tg"><rect x="274" y="165" width="23" height="4"/><text x="285.5" y="167.9">Teori Belajar</text></g>
<g id="w1" class="wc"><rect x="215" y="161" width="53" height="13"/><text x="241.5" y="163.9">Belajar adalah perubahan<tspan x="241.5" dy="3">perilaku yang relatif</tspan><tspan x="241.5" dy="3">permanen sebagai hasil</tspan><tspan x="241.5" dy="3">dari pengalaman</tspan></text></g>
<g id="gb1" class="gb"><rect x="156" y="133" width="52" height="9"/><text x="182" y="136.9">Classical Conditioning<tspan x="182" dy="3">(Ivan Pavlov)</tspan></text></g>
<g id="gb1a" class="wb"><rect x="97" y="94" width="52" height="8"/><text x="123" y="97.4">Stimulus tak berkondisi<tspan x="123" dy="3">menimbulkan respons alami</tspan></text></g>
<g id="gb1b" class="wb"><rect x="97" y="105" width="52" height="12"/><text x="123" y="108.9">Stimulus netral dipasangkan<tspan x="123" dy="3">berulang kali dengan UCS</tspan><tspan x="123" dy="3">menjadi stimulus berkondisi</tspan></text></g>
<g id="gb1c" class="wb"><rect x="97" y="120" width="52" height="8"/><text x="123" y="123.4">Generalisasi stimulus dan<tspan x="123" dy="3">diskriminasi stimulus</tspan></text></g>
<g id="gb1d" class="wb"><rect x="97" y="132" width="52" height="14"/><text x="123" y="135.4">Extinction: hilangnya respons<tspan x="123" dy="3">berkondisi bila CS disajikan</tspan><tspan x="123" dy="3">tanpa UCS; spontaneous</tspan><tspan x="123" dy="3">recovery dapat terjadi</tspan></text></g>
<g id="gb1e" class="wb"><rect x="104" y="149" width="45" height="4"/><text x="126.5" y="151.9">Higher order conditioning</text></g>
<g id="gb1f" class="wb"><rect x="97" y="155" width="52" height="14"/><text x="123" y="158.4">Aplikasi dalam terapi<tspan x="123" dy="3">perilaku seperti</tspan><tspan x="123" dy="3">desensitisasi sistematis</tspan><tspan x="123" dy="3">dan aversion therapy</tspan></text></g>
<g id="gb1g" class="wb"><rect x="97" y="172" width="52" height="9"/><text x="123" y="174.4">Contoh: rasa takut yang<tspan x="123" dy="3">dipelajari (Little Albert)</tspan><tspan x="123" dy="3">oleh John B. Watson</tspan></text></g>
<g id="gb2" class="gb"><rect x="156" y="193" width="52" height="9"/><text x="182" y="196.9">Operant Conditioning<tspan x="182" dy="3">(B.F. Skinner)</tspan></text></g>
<g id="gb2a" class="wb"><rect x="97" y="184" width="52" height="6"/><text x="123" y="186.4">Perilaku dipengaruhi<tspan x="123" dy="3">konsekuensinya</tspan></text></g>
<g id="gb2b" class="wb"><rect x="97" y="193" width="52" height="12"/><text x="123" y="196.9">Penguatan positif dan negatif,<tspan x="123" dy="3">hukuman serta jadwal</tspan><tspan x="123" dy="3">penguatan (reinforcement)</tspan></text></g>
<g id="gb2c" class="wb"><rect x="108" y="208" width="41" height="4"/><text x="128.5" y="210.9">Shaping dan chaining</text></g>
<g id="c2" class="tg"><rect x="278" y="233" width="19" height="4"/><text x="287.5" y="235.9">Memori</text></g>
<g id="w2" class="wc"><rect x="230" y="218" width="41" height="4"/><text x="250.5" y="220.9">Tahapan memori</text></g>
<g id="w2a" class="gb"><rect x="195" y="206" width="28" height="3.5"/><text x="209" y="208.65">Encoding</text></g>
<g id="w2b" class="gb"><rect x="199" y="212" width="24" height="4"/><text x="211" y="214.9">Storage</text></g>
<g id="w2c" class="gb"><rect x="188" y="218" width="35" height="10"/><text x="205.5" y="220.9">Retrieval:<tspan x="205.5" dy="3">recall dan</tspan><tspan x="205.5" dy="3">recognition</tspan></text></g>
<g id="w2d" class="gb"><rect x="213" y="231" width="10" height="3.5"/><text x="218" y="233.65">Lupa</text></g>
<g id="w3" class="wc"><rect x="225" y="247" width="46" height="4"/><text x="248" y="249.9">Jenis memori</text></g>
<g id="w3a" class="gb"><rect x="165" y="238" width="53" height="9"/><text x="191.5" y="241.9">Memori jangka pendek<tspan x="191.5" dy="3">(short term memory)</tspan></text></g>
<g id="w3b" class="gb"><rect x="165" y="250" width="53" height="11"/><text x="191.5" y="253.4">Memori jangka panjang:<tspan x="191.5" dy="3">episodik, semantik dan</tspan><tspan x="191.5" dy="3">prosedural</tspan></text></g>
<g id="e1" class="gc"><rect x="243" y="296" width="53" height="18"/><text x="269.5" y="299.9">Metode penelitian<tspan x="269.5" dy="3">deskriptif, korelasional</tspan><tspan x="269.5" dy="3">dan eksperimen dalam</tspan><tspan x="269.5" dy="3">psikologi beserta</tspan><tspan x="269.5" dy="3">teknik samplingnya</tspan></text></g>
<g id="e11" class="wc"><rect x="196" y="271" width="41" height="4"/><text x="216.5" y="273.9">Teknik observasi</text></g>
<g id="e11a" class="gb"><rect x="154" y="265" width="34" height="3.5"/><text x="171" y="267.65">Observasi natural</text></g>
<g id="e11b" class="gb"><rect x="149" y="271" width="40" height="4"/><text x="169" y="273.9">Observasi terkendali</text></g>
<g id="e11c" class="gb"><rect x="147" y="278" width="42" height="3.5"/><text x="168" y="280.65">Observasi partisipan</text></g>
<g id="e12" class="wc"><rect x="188" y="288" width="49" height="4"/><text x="212.5" y="290.9">Teknik pengambilan sampel</text></g>
<g id="e12a" class="gb"><rect x="146" y="285" width="35" height="4"/><text x="163.5" y="287.9">Random sampling</text></g>
<g id="e12b" class="gb"><rect x="147" y="292" width="34" height="3.5"/><text x="164" y="294.65">Non random</text></g>
<g id="e13" class="wc"><rect x="185" y="302" width="52" height="6"/><text x="211" y="304.4">Teknik pengumpulan data<tspan x="211" dy="3">dalam penelitian</tspan></text></g>
<g id="e13a" class="gb"><rect x="132" y="298" width="45" height="4"/><text x="154.5" y="300.9">Wawancara terstruktur</text></g>
<g id="e13b" class="gb"><rect x="124" y="305" width="53" height="7"/><text x="150.5" y="307.9">Wawancara tidak<tspan x="150.5" dy="3">terstruktur</tspan></text></g>
<g id="e14" class="wc"><rect x="188" y="316" width="49" height="7"/><text x="212.5" y="318.9">Metode survei dan<tspan x="212.5" dy="3">kuesioner</tspan></text></g>
<g id="e14a" class="gb"><rect x="131" y="315" width="46" height="4"/><text x="154" y="317.9">Kuesioner tertutup</text></g>
<g id="e14b" class="gb"><rect x="126" y="322" width="51" height="3.5"/><text x="151.5" y="324.65">Kuesioner terbuka</text></g>
<g id="e15" class="wc"><rect x="210" y="335" width="27" height="4"/><text x="223.5" y="337.9">Eksperimen</text></g>
<g id="e15a" class="gb"><rect x="178" y="329" width="25" height="4"/><text x="190.5" y="331.9">Variabel bebas</text></g>
<g id="e15b" class="gb"><rect x="164" y="335" width="39" height="4"/><text x="183.5" y="337.9">Variabel tergantung</text></g>
<g id="e15c" class="gb"><rect x="164" y="342" width="39" height="4"/><text x="183.5" y="344.9">Variabel kontrol</text></g>
<g id="e2" class="gc"><rect x="243" y="369" width="53" height="15"/><text x="269.5" y="372.9">Desain penelitian<tspan x="269.5" dy="3">eksperimen dan</tspan><tspan x="269.5" dy="3">validitas internal</tspan><tspan x="269.5" dy="3">maupun eksternal</tspan></text></g>
<g id="e21" class="wc"><rect x="195" y="361" width="42" height="4"/><text x="216" y="363.9">Desain eksperimen</text></g>
<g id="e21a" class="gb"><rect x="154" y="349" width="34" height="4"/><text x="171" y="351.9">Between subject</text></g>
<g id="e21b" class="gb"><rect x="154" y="356" width="34" height="4"/><text x="171" y="358.9">Within subject</text></g>
<g id="e21c" class="gb"><rect x="135" y="363" width="53" height="6"/><text x="161.5" y="365.4">Desain faktorial<tspan x="161.5" dy="3">(factorial design)</tspan></text></g>
<g id="e21d" class="gb"><rect x="158" y="373" width="30" height="3.5"/><text x="173" y="375.65">Quasi eksperimen</text></g>
<g id="e22" class="wc"><rect x="218" y="387" width="19" height="4"/><text x="227.5" y="389.9">Validitas</text></g>
<g id="e22a" class="gb"><rect x="159" y="379" width="53" height="7"/><text x="185.5" y="381.9">Validitas internal<tspan x="185.5" dy="3">(kontrol variabel)</tspan></text></g>
<g id="e22b" class="gb"><rect x="176" y="389" width="36" height="3.5"/><text x="194" y="391.65">Validitas eksternal</text></g>
<g id="e22c" class="gb"><rect x="177" y="395" width="35" height="4"/><text x="194.5" y="397.9">Validitas konstruk</text></g>
<g id="e3" class="gc"><rect x="243" y="415" width="53" height="6"/><text x="269.5" y="417.4">Analisis data<tspan x="269.5" dy="3">penelitian</tspan></text></g>
<g id="e3a" class="wc"><rect x="194" y="402" width="43" height="4"/><text x="215.5" y="404.9">Statistik deskriptif</text></g>
<g id="e3b" class="wc"><rect x="194" y="409" width="43" height="4"/><text x="215.5" y="411.9">Statistik inferensial</text></g>
<g id="e3c" class="wc"><rect x="194" y="416" width="43" height="4"/><text x="215.5" y="418.9">Uji hipotesis</text></g>
<g id="e3d" class="wc"><rect x="194" y="423" width="43" height="4"/><text x="215.5" y="425.9">Korelasi dan regresi</text></g>
<g id="e3e" class="wc"><rect x="208" y="429" width="29" height="4"/><text x="222.5" y="431.9">Analisis kualitatif</text></g>

<!-- Modul 3 -->
<g id="f0" class="gm"><rect x="303" y="535" width="52" height="6"/><text x="329" y="537.4">Proses Psikologis Dasar<tspan x="329" dy="3">dan Perkembangan Manusia</tspan></text></g>
<g id="s" class="pu"><rect x="274" y="465" width="22" height="5"/><text x="285" y="468.4">Persepsi</text></g>
<g id="pv" class="pu"><rect x="271" y="604" width="25" height="5"/><text x="283.5" y="607.4">Perkembangan</text></g>
<g id="s1" class="mg"><rect x="242" y="441" width="26" height="4"/><text x="255" y="443.9">Sensasi</text></g>
<g id="s1a" class="pk"><rect x="183" y="438" width="52" height="13"/><text x="209" y="440.9">Proses penerimaan stimulus<tspan x="209" dy="3">oleh alat indera (reseptor)</tspan><tspan x="209" dy="3">yang kemudian diteruskan</tspan><tspan x="209" dy="3">ke otak</tspan></text></g>
<g id="s2" class="mg"><rect x="216" y="463" width="52" height="9"/><text x="242" y="466.9">Persepsi dan faktor yang<tspan x="242" dy="3">mempengaruhinya</tspan></text></g>
<g id="s2a" class="pk"><rect x="175" y="454" width="33" height="4"/><text x="191.5" y="456.9">Ambang sensori</text></g>
<g id="s2b" class="pk"><rect x="180" y="461" width="28" height="3.5"/><text x="194" y="463.65">Adaptasi</text></g>
<g id="s2c" class="pk"><rect x="157" y="468" width="51" height="6"/><text x="182.5" y="470.4">Prinsip organisasi<tspan x="182.5" dy="3">persepsi (Gestalt)</tspan></text></g>
<g id="s2d" class="pk"><rect x="180" y="477" width="28" height="4"/><text x="194" y="479.9">Ilusi optik</text></g>
<g id="s3" class="mg"><rect x="218" y="491" width="50" height="4"/><text x="243" y="493.9">Kesadaran dan perhatian</text></g>
<g id="s3a" class="pk"><rect x="166" y="484" width="43" height="4"/><text x="187.5" y="486.9">Tingkat kesadaran</text></g>
<g id="s3b" class="pk"><rect x="185" y="491" width="24" height="4"/><text x="197" y="493.9">Tidur</text></g>
<g id="s3c" class="pk"><rect x="168" y="498" width="41" height="4"/><text x="188.5" y="500.9">Hipnosis dan meditasi</text></g>
<g id="v1" class="mg"><rect x="238" y="524" width="26" height="4"/><text x="251" y="526.9">Prenatal</text></g>
<g id="v1a" class="pk"><rect x="179" y="504" width="52" height="11"/><text x="205" y="507.4">Masa pranatal dimulai dari<tspan x="205" dy="3">konsepsi hingga kelahiran,</tspan><tspan x="205" dy="3">terdiri atas tiga tahap</tspan></text></g>
<g id="v1b" class="pk"><rect x="179" y="517" width="52" height="13"/><text x="205" y="519.9">Tahap germinal, tahap<tspan x="205" dy="3">embrio dan tahap fetus</tspan><tspan x="205" dy="3">yang masing-masing</tspan><tspan x="205" dy="3">memiliki ciri tertentu</tspan></text></g>
<g id="v1c" class="pk"><rect x="179" y="534" width="52" height="13"/><text x="205" y="536.9">Faktor teratogen seperti<tspan x="205" dy="3">obat, alkohol, penyakit</tspan><tspan x="205" dy="3">dan gizi ibu dapat</tspan><tspan x="205" dy="3">mengganggu perkembangan</tspan></text></g>
<g id="v2" class="mg"><rect x="225" y="582" width="39" height="4"/><text x="244.5" y="584.9">Masa Bayi dan Kanak-kanak</text></g>
<g id="v2a" class="pk"><rect x="166" y="550" width="52" height="4"/><text x="192" y="552.9">Refleks pada bayi baru lahir</text></g>
<g id="v2b" class="pk"><rect x="166" y="557" width="52" height="8"/><text x="192" y="560.4">Perkembangan motorik kasar<tspan x="192" dy="3">dan motorik halus</tspan></text></g>
<g id="v2c" class="pk"><rect x="166" y="569" width="52" height="3.5"/><text x="192" y="571.65">Perkembangan bahasa</text></g>
<g id="v2d" class="pk"><rect x="166" y="576" width="52" height="8"/><text x="192" y="579.4">Kelekatan (attachment)<tspan x="192" dy="3">dengan pengasuh</tspan></text></g>
<g id="v2e" class="pk"><rect x="166" y="588" width="52" height="11"/><text x="192" y="591.4">Teori perkembangan<tspan x="192" dy="3">kognitif Piaget: sensori-</tspan><tspan x="192" dy="3">motor hingga operasional</tspan></text></g>
<g id="v2f" class="pk"><rect x="166" y="602" width="52" height="9"/><text x="192" y="605.9">Perkembangan psikososial<tspan x="192" dy="3">menurut Erikson</tspan></text></g>
<g id="v2g" class="pk"><rect x="179" y="614" width="39" height="4"/><text x="198.5" y="616.9">Perkembangan moral</text></g>
<g id="v3" class="mg"><rect x="225" y="632" width="39" height="4"/><text x="244.5" y="634.9">Masa Remaja</text></g>
<g id="v3a" class="pk"><rect x="166" y="620" width="52" height="27"/><text x="192" y="623.9">Masa remaja ditandai<tspan x="192" dy="3">pubertas dan perubahan</tspan><tspan x="192" dy="3">fisik yang cepat, pencarian</tspan><tspan x="192" dy="3">identitas diri, meningkatnya</tspan><tspan x="192" dy="3">pengaruh teman sebaya</tspan><tspan x="192" dy="3">serta kemampuan berpikir</tspan><tspan x="192" dy="3">abstrak (operasional</tspan><tspan x="192" dy="3">formal)</tspan></text></g>
<g id="v4" class="mg"><rect x="212" y="659" width="52" height="6"/><text x="238" y="661.4">Masa Dewasa<tspan x="238" dy="3">Awal dan Madya</tspan></text></g>
<g id="v4a" class="pk"><rect x="152" y="650" width="54" height="6"/><text x="179" y="652.4">Pilihan karier dan<tspan x="179" dy="3">membangun hubungan intim</tspan></text></g>
<g id="v4b" class="pk"><rect x="152" y="659" width="54" height="6"/><text x="179" y="661.4">Perkawinan dan<tspan x="179" dy="3">menjadi orang tua</tspan></text></g>
<g id="v4c" class="pk"><rect x="152" y="669" width="54" height="6"/><text x="179" y="671.4">Krisis paruh baya<tspan x="179" dy="3">(midlife crisis)</tspan></text></g>
<g id="v5" class="mg"><rect x="212" y="680" width="52" height="9"/><text x="238" y="683.9">Masa Dewasa Akhir<tspan x="238" dy="3">(Usia Lanjut)</tspan></text></g>
<g id="v5a" class="pk"><rect x="166" y="678" width="39" height="4"/><text x="185.5" y="680.9">Perubahan fisik</text></g>
<g id="v5b" class="pk"><rect x="152" y="685" width="53" height="6"/><text x="178.5" y="687.4">Penyesuaian terhadap<tspan x="178.5" dy="3">pensiun dan kematian</tspan></text></g>

<!-- Modul 4 -->
<g id="q0" class="bl"><rect x="303" y="808" width="52" height="7"/><text x="329" y="810.9">Dasar Biologis dan<tspan x="329" dy="3">Proses Kognitif</tspan></text></g>
<g id="q1" class="tl"><rect x="270" y="703" width="26" height="4"/><text x="283" y="705.9">Neuron</text></g>
<g id="q1a" class="lc"><rect x="210" y="694" width="51" height="21"/><text x="235.5" y="697.9">Sistem saraf terdiri atas<tspan x="235.5" dy="3">neuron yang menghantarkan</tspan><tspan x="235.5" dy="3">impuls listrik dan kimiawi;</tspan><tspan x="235.5" dy="3">komunikasi antar neuron</tspan><tspan x="235.5" dy="3">terjadi melalui sinaps</tspan><tspan x="235.5" dy="3">dan neurotransmiter</tspan></text></g>
<g id="q2" class="tl"><rect x="278" y="721" width="18" height="4"/><text x="287" y="723.9">Otak</text></g>
<g id="q2a" class="lc"><rect x="219" y="719" width="52" height="8"/><text x="245" y="722.4">Struktur otak: otak depan,<tspan x="245" dy="3">otak tengah dan belakang</tspan></text></g>
<g id="q3" class="tl"><rect x="275" y="744" width="21" height="4"/><text x="285.5" y="746.9">Genetika</text></g>
<g id="q3a" class="lc"><rect x="240" y="736" width="28" height="3.5"/><text x="254" y="738.65">Gen dan kromosom</text></g>
<g id="q3b" class="cy"><rect x="181" y="730" width="52" height="14"/><text x="207" y="733.4">Sifat diturunkan melalui<tspan x="207" dy="3">gen yang terdapat pada</tspan><tspan x="207" dy="3">kromosom; interaksi</tspan><tspan x="207" dy="3">genotipe dan lingkungan</tspan></text></g>
<g id="q3c" class="lc"><rect x="233" y="754" width="35" height="3.5"/><text x="250.5" y="756.65">Sistem endokrin</text></g>
<g id="q3d" class="cy"><rect x="174" y="747" width="53" height="17"/><text x="200.5" y="750.4">Kelenjar endokrin<tspan x="200.5" dy="3">menghasilkan hormon yang</tspan><tspan x="200.5" dy="3">mempengaruhi perilaku,</tspan><tspan x="200.5" dy="3">emosi dan pertumbuhan</tspan><tspan x="200.5" dy="3">individu</tspan></text></g>
<g id="q4" class="tl"><rect x="243" y="775" width="53" height="6"/><text x="269.5" y="777.4">Motivasi dan<tspan x="269.5" dy="3">Emosi</tspan></text></g>
<g id="q4a" class="lc"><rect x="185" y="765" width="52" height="10"/><text x="211" y="767.9">Motivasi adalah dorongan<tspan x="211" dy="3">yang mengarahkan perilaku</tspan><tspan x="211" dy="3">menuju suatu tujuan</tspan></text></g>
<g id="q4b" class="lc"><rect x="185" y="779" width="52" height="11"/><text x="211" y="782.4">Emosi melibatkan reaksi<tspan x="211" dy="3">fisiologis, ekspresi</tspan><tspan x="211" dy="3">dan pengalaman subjektif</tspan></text></g>
<g id="q5" class="tl"><rect x="243" y="814" width="53" height="8"/><text x="269.5" y="817.4">Teori-teori Motivasi<tspan x="269.5" dy="3">dan Emosi</tspan></text></g>
<g id="q5a" class="lc"><rect x="205" y="793" width="32" height="4"/><text x="221" y="795.9">Teori Motivasi</text></g>
<g id="q5b" class="cy"><rect x="166" y="793" width="16" height="4"/><text x="174" y="795.9">Teori</text></g>
<g id="q5c" class="sb"><rect x="107" y="783" width="52" height="12"/><text x="133" y="786.9">Teori dorongan (drive),<tspan x="133" dy="3">teori insentif dan teori</tspan><tspan x="133" dy="3">arousal optimal</tspan></text></g>
<g id="q5d" class="sb"><rect x="107" y="797" width="52" height="9"/><text x="133" y="800.9">Hierarki kebutuhan<tspan x="133" dy="3">menurut Maslow</tspan></text></g>
<g id="q5e" class="lc"><rect x="208" y="817" width="29" height="4"/><text x="222.5" y="819.9">Teori Emosi</text></g>
<g id="q5f" class="cy"><rect x="150" y="817" width="52" height="4"/><text x="176" y="819.9">James-Lange dan Cannon-Bard</text></g>
<g id="q5g" class="sb"><rect x="45" y="810" width="98" height="18"/><text x="94" y="813.9">Teori James-Lange: emosi timbul setelah perubahan fisiologis;<tspan x="94" dy="3">Teori Cannon-Bard: emosi dan perubahan fisiologis bersamaan;</tspan><tspan x="94" dy="3">Teori Schachter-Singer (dua faktor): emosi ditentukan oleh</tspan><tspan x="94" dy="3">rangsang fisiologis dan interpretasi kognitif terhadap situasi;</tspan><tspan x="94" dy="3">Teori appraisal dari Lazarus</tspan></text></g>
<g id="q6" class="tl"><rect x="243" y="864" width="53" height="6"/><text x="269.5" y="866.4">Berpikir dan<tspan x="269.5" dy="3">Bahasa</tspan></text></g>
<g id="q6a" class="lc"><rect x="191" y="839" width="46" height="3.5"/><text x="214" y="841.65">Konsep dan penalaran</text></g>
<g id="q6b" class="cy"><rect x="79" y="831" width="104" height="19"/><text x="131" y="835.4">Berpikir adalah manipulasi representasi mental dari informasi;<tspan x="131" dy="3">meliputi pembentukan konsep, penalaran deduktif dan</tspan><tspan x="131" dy="3">induktif serta pemecahan masalah dengan algoritma dan</tspan><tspan x="131" dy="3">heuristik; hambatan berpikir antara lain functional</tspan><tspan x="131" dy="3">fixedness dan mental set</tspan></text></g>
<g id="q6c" class="lc"><rect x="185" y="863" width="52" height="8"/><text x="211" y="866.4">Komponen dan<tspan x="211" dy="3">perkembangan bahasa</tspan></text></g>
<g id="q6d" class="cy"><rect x="158" y="853" width="20" height="3.5"/><text x="168" y="855.65">Fonem</text></g>
<g id="q6e" class="cy"><rect x="125" y="860" width="53" height="6"/><text x="151.5" y="862.4">Morfem dan<tspan x="151.5" dy="3">sintaksis</tspan></text></g>
<g id="q6f" class="cy"><rect x="143" y="870" width="35" height="3.5"/><text x="160.5" y="872.65">Semantik</text></g>
<g id="q6g" class="cy"><rect x="138" y="876" width="40" height="4"/><text x="158" y="878.9">Pragmatik</text></g>
<g id="q7" class="tl"><rect x="243" y="911" width="53" height="10"/><text x="269.5" y="913.9">Inteligensi dan<tspan x="269.5" dy="3">Kreativitas</tspan><tspan x="269.5" dy="3">(Kemampuan Mental)</tspan></text></g>
<g id="q7a" class="lc"><rect x="211" y="888" width="26" height="4"/><text x="224" y="890.9">Inteligensi</text></g>
<g id="q7b" class="cy"><rect x="118" y="883" width="86" height="13"/><text x="161" y="885.9">Inteligensi adalah kemampuan untuk memahami<tspan x="161" dy="3">lingkungan, berpikir rasional dan menggunakan</tspan><tspan x="161" dy="3">sumber daya secara efektif; diukur dengan tes</tspan><tspan x="161" dy="3">IQ seperti Stanford-Binet dan WAIS</tspan></text></g>
<g id="q7c" class="sb"><rect x="59" y="887" width="53" height="6"/><text x="85.5" y="889.4">Teori-teori<tspan x="85.5" dy="3">inteligensi</tspan></text></g>
<g id="q7d" class="sl"><rect x="8" y="881" width="44" height="4"/><text x="30" y="883.9">Faktor g Spearman</text></g>
<g id="q7e" class="sl"><rect x="12" y="889" width="40" height="3.5"/><text x="32" y="891.65">Multiple Gardner</text></g>
<g id="q7f" class="sl"><rect x="24" y="895" width="28" height="4"/><text x="38" y="897.9">Triarkis</text></g>
<g id="q7g" class="lc"><rect x="216" y="910" width="21" height="4"/><text x="226.5" y="912.9">Kreativitas</text></g>
<g id="q7h" class="cy"><rect x="156" y="906" width="52" height="11"/><text x="182" y="909.4">Kreativitas adalah<tspan x="182" dy="3">kemampuan menghasilkan</tspan><tspan x="182" dy="3">ide baru dan orisinal</tspan></text></g>
<g id="q7i" class="sb"><rect x="97" y="906" width="52" height="11"/><text x="123" y="909.4">Berpikir divergen<tspan x="123" dy="3">dan konvergen dalam</tspan><tspan x="123" dy="3">pemecahan masalah</tspan></text></g>
<g id="q7j" class="sl"><rect x="66" y="902" width="25" height="4"/><text x="78.5" y="904.9">Fluency</text></g>
<g id="q7k" class="sl"><rect x="37" y="908" width="54" height="7"/><text x="64" y="910.9">Flexibility dan<tspan x="64" dy="3">originality</tspan></text></g>
<g id="q7l" class="sl"><rect x="66" y="919" width="25" height="3.5"/><text x="78.5" y="921.65">Elaboration</text></g>
<g id="q7m" class="lc"><rect x="213" y="940" width="24" height="4"/><text x="225" y="942.9">Belajar</text></g>
<g id="q7n" class="cy"><rect x="155" y="937" width="52" height="9"/><text x="181" y="940.9">Belajar kognitif dan<tspan x="181" dy="3">belajar observasional</tspan></text></g>
<g id="q7o" class="sb"><rect x="96" y="936" width="52" height="12"/><text x="122" y="939.9">Belajar observasional<tspan x="122" dy="3">melalui modeling dengan</tspan><tspan x="122" dy="3">empat tahapan proses</tspan></text></g>
<g id="q7p" class="sl"><rect x="55" y="925" width="34" height="4"/><text x="72" y="927.9">Atensi</text></g>
<g id="q7q" class="sl"><rect x="49" y="932" width="40" height="3.5"/><text x="69" y="934.65">Retensi</text></g>
<g id="q7r" class="sl"><rect x="41" y="939" width="48" height="3.5"/><text x="65" y="941.65">Reproduksi motorik</text></g>
<g id="q7s" class="sl"><rect x="36" y="946" width="53" height="6"/><text x="62.5" y="948.4">Motivasi dan<tspan x="62.5" dy="3">penguatan</tspan></text></g>
<g id="q7t" class="sl"><rect x="53" y="955" width="36" height="4"/><text x="71" y="957.9">Insight learning</text></g>
</svg>
